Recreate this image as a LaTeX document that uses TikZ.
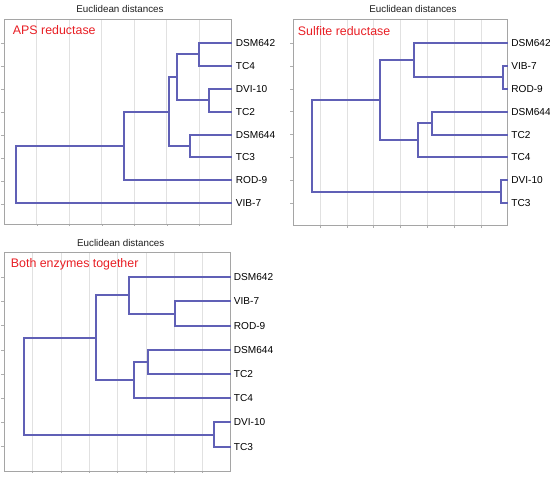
\documentclass[tikz,border=0pt]{standalone}
\usepackage{fontspec}
\setmainfont{Liberation Sans}
\begin{document}
\begin{tikzpicture}[x=1pt,y=-1pt,
  framebox/.style={draw={rgb,255:red,165;green,165;blue,165},line width=0.8pt},
  gridline/.style={draw={rgb,255:red,225;green,225;blue,225},line width=0.6pt},
  tickmark/.style={draw={rgb,255:red,175;green,175;blue,175},line width=0.5pt},
  branch/.style={draw={rgb,255:red,96;green,96;blue,182},line width=2pt},
  leaflabel/.style={anchor=west,inner sep=0pt,font=\fontsize{10.1}{10}\selectfont,text=black},
  axistitle/.style={inner sep=0pt,font=\fontsize{9.8}{10}\selectfont,text={rgb,255:red,30;green,30;blue,30}},
  paneltitle/.style={anchor=base west,inner sep=0pt,font=\fontsize{12.4}{13}\selectfont,text={rgb,255:red,232;green,30;blue,36}}]
\useasboundingbox (0,0) rectangle (550,478);

% ---------------- Panel 1: APS reductase ----------------
\foreach \k in {1,...,6} \draw[gridline] ({4.3+\k*32.49},19) -- ({4.3+\k*32.49},224);
\foreach \k in {1,...,6} \draw[tickmark] ({4.3+\k*32.49},224) -- ({4.3+\k*32.49},226.5);
\foreach \i in {0,...,7} \draw[tickmark] (1.3,{43+\i*23}) -- (4.3,{43+\i*23});
\draw[framebox] (4.3,19) rectangle (231.7,224);
\node[axistitle] (t1) at (120,9) {Euclidean distances};
\node[paneltitle] (r1) at (12.7,35) {APS reductase};
\foreach \n/\i in {DSM642/0,TC4/1,DVI-10/2,TC2/3,DSM644/4,TC3/5,ROD-9/6,VIB-7/7}{
  \coordinate (p1\n) at (231.7,{43+\i*22.9});
  \node[leaflabel] (l1\n) at ([xshift=4pt]p1\n) {\n};
}
\coordinate (p1a) at (199,{43+0.5*22.9});
\coordinate (p1b) at (209,{43+2.5*22.9});
\coordinate (p1c) at (177,{43+1.5*22.9});
\coordinate (p1d) at (190,{43+4.5*22.9});
\coordinate (p1e) at (169,{43+3*22.9});
\coordinate (p1f) at (124,{43+4.5*22.9});
\coordinate (p1g) at (16,{43+5.75*22.9});
\draw[branch] (p1DSM642) -| (p1a) |- (p1TC4);
\draw[branch] (p1DVI-10) -| (p1b) |- (p1TC2);
\draw[branch] (p1a) -| (p1c) |- (p1b);
\draw[branch] (p1DSM644) -| (p1d) |- (p1TC3);
\draw[branch] (p1c) -| (p1e) |- (p1d);
\draw[branch] (p1e) -| (p1f) |- (p1ROD-9);
\draw[branch] (p1f) -| (p1g) |- (p1VIB-7);

% ---------------- Panel 2: Sulfite reductase ----------------
\foreach \k in {1,...,7} \draw[gridline] ({293.3+\k*26.8},19.3) -- ({293.3+\k*26.8},225.5);
\foreach \k in {1,...,7} \draw[tickmark] ({293.3+\k*26.8},225.5) -- ({293.3+\k*26.8},228);
\foreach \i in {0,...,7} \draw[tickmark] (290.3,{43+\i*22.9}) -- (293.3,{43+\i*22.9});
\draw[framebox] (293.3,19.3) rectangle (507.7,225.5);
\node[axistitle] (t2) at (413,9) {Euclidean distances};
\node[paneltitle] (r2) at (297.7,35.5) {Sulfite reductase};
\foreach \n/\i in {DSM642/0,VIB-7/1,ROD-9/2,DSM644/3,TC2/4,TC4/5,DVI-10/6,TC3/7}{
  \coordinate (p2\n) at (507.7,{43+\i*22.9});
  \node[leaflabel] (l2\n) at ([xshift=3.5pt]p2\n) {\n};
}
\coordinate (p2a) at (503,{43+1.5*22.9});
\coordinate (p2b) at (414,{43+0.75*22.9});
\coordinate (p2c) at (432,{43+3.5*22.9});
\coordinate (p2d) at (418,{43+4.25*22.9});
\coordinate (p2e) at (380,{43+2.5*22.9});
\coordinate (p2f) at (501,{43+6.5*22.9});
\coordinate (p2g) at (312,{43+4.5*22.9});
\draw[branch] (p2VIB-7) -| (p2a) |- (p2ROD-9);
\draw[branch] (p2DSM642) -| (p2b) |- (p2a);
\draw[branch] (p2DSM644) -| (p2c) |- (p2TC2);
\draw[branch] (p2c) -| (p2d) |- (p2TC4);
\draw[branch] (p2b) -| (p2e) |- (p2d);
\draw[branch] (p2DVI-10) -| (p2f) |- (p2TC3);
\draw[branch] (p2e) -| (p2g) |- (p2f);

% ---------------- Panel 3: Both enzymes together ----------------
\foreach \k in {1,...,7} \draw[gridline] ({4.3+\k*28.3},252) -- ({4.3+\k*28.3},471);
\foreach \k in {1,...,7} \draw[tickmark] ({4.3+\k*28.3},471) -- ({4.3+\k*28.3},473.5);
\foreach \i in {0,...,7} \draw[tickmark] (1.3,{277.3+\i*24.2}) -- (4.3,{277.3+\i*24.2});
\draw[framebox] (4.3,252) rectangle (230.7,471);
\node[axistitle] (t3) at (120.7,243.3) {Euclidean distances};
\node[paneltitle] (r3) at (10.7,267.7) {Both enzymes together};
\foreach \n/\i in {DSM642/0,VIB-7/1,ROD-9/2,DSM644/3,TC2/4,TC4/5,DVI-10/6,TC3/7}{
  \coordinate (p3\n) at (230.7,{277.3+\i*24.2});
  \node[leaflabel] (l3\n) at ([xshift=3pt]p3\n) {\n};
}
\coordinate (p3a) at (175,{277.3+1.5*24.2});
\coordinate (p3b) at (129,{277.3+0.75*24.2});
\coordinate (p3c) at (148,{277.3+3.5*24.2});
\coordinate (p3d) at (134,{277.3+4.25*24.2});
\coordinate (p3e) at (96,{277.3+2.5*24.2});
\coordinate (p3f) at (214,{277.3+6.5*24.2});
\coordinate (p3g) at (24,{277.3+4.5*24.2});
\draw[branch] (p3VIB-7) -| (p3a) |- (p3ROD-9);
\draw[branch] (p3DSM642) -| (p3b) |- (p3a);
\draw[branch] (p3DSM644) -| (p3c) |- (p3TC2);
\draw[branch] (p3c) -| (p3d) |- (p3TC4);
\draw[branch] (p3b) -| (p3e) |- (p3d);
\draw[branch] (p3DVI-10) -| (p3f) |- (p3TC3);
\draw[branch] (p3e) -| (p3g) |- (p3f);
\end{tikzpicture}
\end{document}
